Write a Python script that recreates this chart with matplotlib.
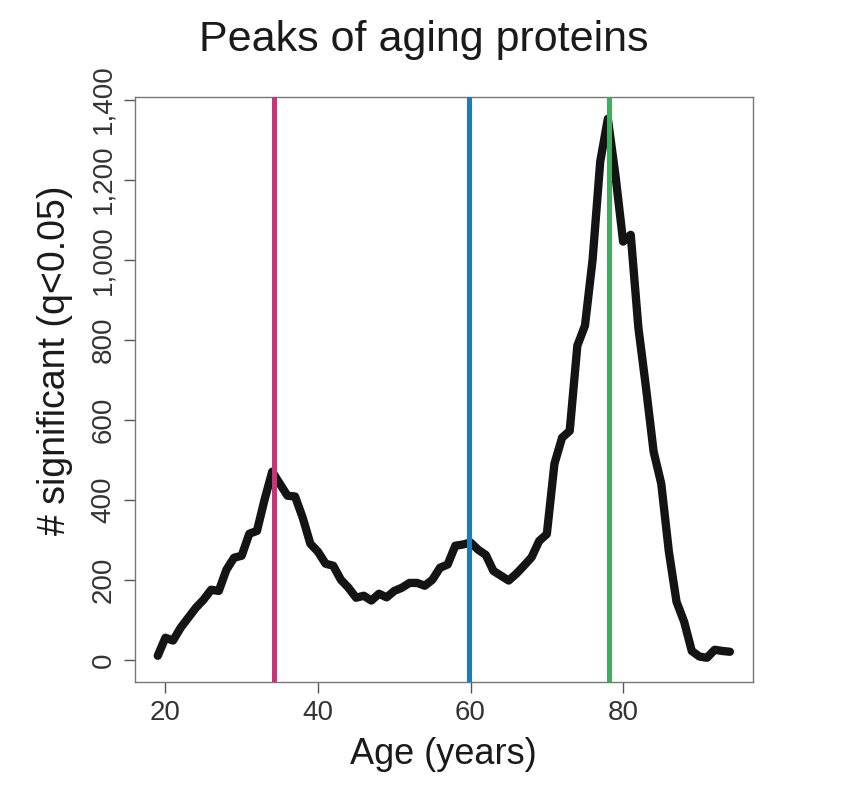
import numpy as np
import matplotlib
matplotlib.use("Agg")
import matplotlib.pyplot as plt
from matplotlib.ticker import FuncFormatter

plt.rcParams['font.family'] = ['Liberation Sans', 'DejaVu Sans']

# values
age = list(range(19, 95))
n_sig = [10, 55, 48, 80, 105, 130, 150, 175, 172, 225,
         255, 260, 315, 322, 400, 470, 440, 410, 408, 355,
         290, 270, 240, 235, 200, 180, 155, 160, 148, 165,
         156, 172, 180, 192, 192, 185, 200, 230, 238, 285,
         288, 293, 275, 262, 222, 210, 198, 215, 235, 256,
         297, 314, 490, 555, 572, 785, 835, 1000, 1245, 1352,
         1210, 1045, 1062, 830, 680, 520, 440, 270, 145, 95,
         22, 8, 5, 25, 22, 20]
peak_ages = [34.2, 59.8, 78.1]
peak_colors = ["#c8337a", "#1a7db5", "#3fae5c"]

fig = plt.figure(figsize=(8.43, 7.9), dpi=100)
ax = fig.add_axes([0.160, 0.137, 0.733, 0.740])

ax.plot(age, n_sig, color="#141414", lw=6, solid_joinstyle="round",
        solid_capstyle="round", zorder=2)
for a, c in zip(peak_ages, peak_colors):
    ax.axvline(a, color=c, lw=3.6, zorder=3)

ax.set_xlim(16, 97)
ax.set_ylim(-55, 1406)
ax.set_xticks([20, 40, 60, 80])
ax.set_yticks(np.arange(0, 1401, 200))
ax.yaxis.set_major_formatter(FuncFormatter(lambda v, p: f"{int(v):,}"))

ax.tick_params(direction="out", length=8, width=1, color="#555555",
               labelsize=20, labelcolor="#333333", pad=5)
for lab in ax.get_yticklabels():
    lab.set_rotation(90)
    lab.set_va("center")
for s in ax.spines.values():
    s.set_color("#777777")
    s.set_linewidth(1)

ax.set_xlabel("Age (years)", fontsize=26, color="#1a1a1a", labelpad=8)
ax.set_ylabel("# significant (q<0.05)", fontsize=27, color="#1a1a1a",
              labelpad=12)
ax.yaxis.set_label_coords(-0.10, 0.55)
ax.set_title("Peaks of aging proteins", fontsize=31, color="#1a1a1a",
             pad=33, x=0.467)

fig.savefig("out.png", dpi=100, facecolor="white")
